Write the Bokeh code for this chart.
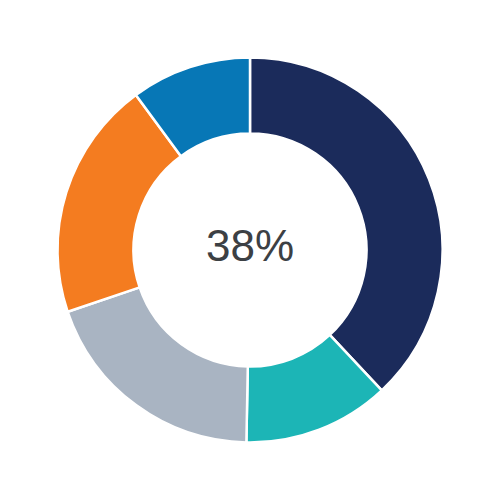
import math
from bokeh.plotting import figure
from bokeh.models import ColumnDataSource, Range1d
from bokeh.core.properties import value
from bokeh.embed import file_html
from bokeh.resources import INLINE

# shares in percent, clockwise from 12 o'clock
labels = ["Navy", "Teal", "Gray", "Orange", "Blue"]
shares = [38.0, 12.3, 19.5, 20.1, 10.1]
colors = ["#1b2b5b", "#1cb5b6", "#a9b4c2", "#f47c20", "#0777b6"]
center_label = "38%"

starts, ends = [], []
cum = 0.0
total = sum(shares)
for s in shares:
    starts.append(math.pi / 2 - 2 * math.pi * cum / total)
    cum += s
    ends.append(math.pi / 2 - 2 * math.pi * cum / total)

src = ColumnDataSource(dict(label=labels, share=shares, color=colors,
                            start=starts, end=ends))

p = figure(width=484, height=484, output_backend="svg", toolbar_location=None,
           x_range=Range1d(-249.5, 234.5), y_range=Range1d(-234.5, 249.5),
           min_border=0)
p.axis.visible = False
p.grid.visible = False
p.outline_line_color = None

p.annular_wedge(x=0, y=0, inner_radius=116.5, outer_radius=192.5,
                start_angle="start", end_angle="end", direction="clock",
                fill_color="color", line_color="white", line_width=2.5,
                source=src)

p.text(x=[0], y=[5], text=[center_label], text_align="center",
       text_baseline="middle", text_font=value("Liberation Sans"),
       text_font_size="44px", text_color="#3c4044")

open("out.html", "w").write(file_html(p, INLINE))
